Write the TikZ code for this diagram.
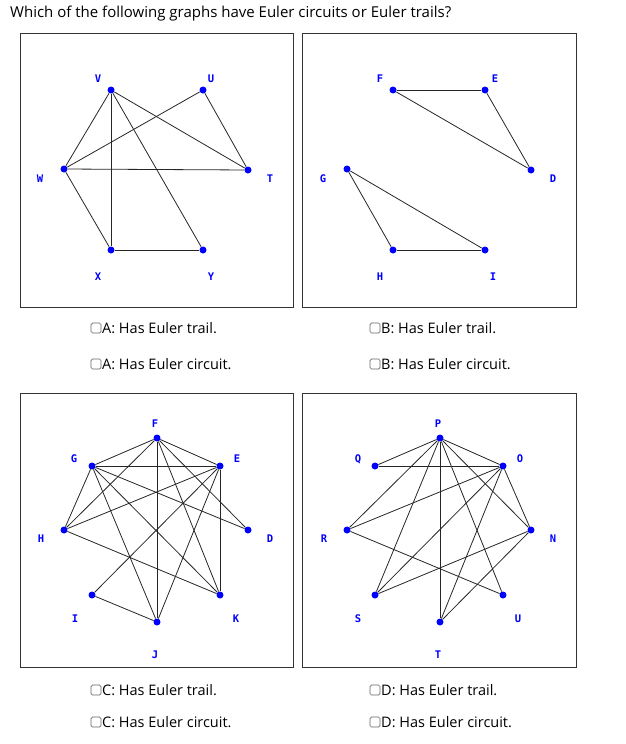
\documentclass[tikz,border=0pt]{standalone}
\usepackage{fontspec}
\setmainfont{Open Sans}
\newfontfamily\lblfont{DejaVu Sans Mono}
\begin{document}
\begin{tikzpicture}[x=1pt,y=-1pt,
  vtx/.style={circle,fill=blue,inner sep=0pt,minimum size=7pt},
  lbl/.style={text=blue,font=\lblfont\bfseries\fontsize{10.5}{11}\selectfont,inner sep=0pt},
  edge/.style={draw=black!85,line width=0.8pt},
  panel/.style={draw=black!80,line width=0.8pt},
  cb/.style={draw=black!60,rounded corners=1.5pt,minimum size=10pt,inner sep=0pt,line width=0.7pt},
  opt/.style={font=\fontsize{14.5}{16}\selectfont,anchor=west,inner sep=0pt}]
\useasboundingbox (0,0) rectangle (625,744);
\node[anchor=west,inner sep=0pt,font=\fontsize{15}{18}\selectfont] (title) at (10,14) {Which of the following graphs have Euler circuits or Euler trails?};
% panels
\draw[panel] (20,33) rectangle (293,307);
\draw[panel] (302,33) rectangle (576,307);
\draw[panel] (20,393) rectangle (293,667);
\draw[panel] (302,393) rectangle (576,667);
% Graph A
\foreach \n/\x/\y in {V/111/90,U/203/90,W/64/169,T/248/170,X/111/250,Y/203/250}
  \node[vtx] (a\n) at (\x,\y) {};
\foreach \n/\x/\y in {V/98/79,U/211/79,W/40/179,T/270/179,X/98/277,Y/211/277}
  \node[lbl] (la\n) at (\x,\y) {\n};
\foreach \a/\b in {V/W,V/X,V/Y,V/T,U/W,U/T,W/T,W/X,X/Y}
  \draw[edge] (a\a) -- (a\b);
% Graph B
\foreach \n/\x/\y in {F/393/90,E/485/90,D/531/170,G/347/169,H/393/250,I/485/250}
  \node[vtx] (b\n) at (\x,\y) {};
\foreach \n/\x/\y in {F/380/79,E/495/79,D/553/179,G/323/179,H/380/277,I/493/277}
  \node[lbl] (lb\n) at (\x,\y) {\n};
\foreach \a/\b in {F/E,E/D,F/D,G/H,G/I,H/I}
  \draw[edge] (b\a) -- (b\b);
% Graph C
\foreach \n/\x/\y in {F/157/438,G/92/466,E/220/466,H/64/530,D/248/530,I/92/595,K/220/595,J/157/622}
  \node[vtx] (c\n) at (\x,\y) {};
\foreach \n/\x/\y in {F/155/424,G/74/459,E/237/459,H/41/539,D/270/539,I/75/619,K/236/619,J/155/655}
  \node[lbl] (lc\n) at (\x,\y) {\n};
\foreach \a/\b in {F/G,F/E,F/H,F/J,F/K,F/D,G/E,G/H,G/J,G/K,G/D,E/K,E/H,E/I,E/J,H/K,I/J}
  \draw[edge] (c\a) -- (c\b);
% Graph D
\foreach \n/\x/\y in {P/440/438,Q/375/466,O/503/466,R/347/530,N/531/530,S/375/595,U/503/595,T/440/622}
  \node[vtx] (d\n) at (\x,\y) {};
\foreach \n/\x/\y in {P/438/424,Q/358/459,O/520/459,R/324/539,N/553/539,S/358/619,U/518/619,T/438/655}
  \node[lbl] (ld\n) at (\x,\y) {\n};
\foreach \a/\b in {P/Q,P/O,P/N,P/U,P/T,P/S,P/R,Q/O,O/R,O/S,O/T,O/N,R/U,N/S,N/T}
  \draw[edge] (d\a) -- (d\b);
% options
\foreach \k/\x/\y/\t in {1/96/328/{A: Has Euler trail.},2/96/364/{A: Has Euler circuit.},
  3/375/328/{B: Has Euler trail.},4/375/364/{B: Has Euler circuit.},
  5/96/690/{C: Has Euler trail.},6/96/722/{C: Has Euler circuit.},
  7/375/690/{D: Has Euler trail.},8/375/722/{D: Has Euler circuit.}}{
  \node[cb] (box\k) at (\x,\y) {};
  \node[opt] (txt\k) at (\x+6,\y) {\t};
}
\end{tikzpicture}
\end{document}
